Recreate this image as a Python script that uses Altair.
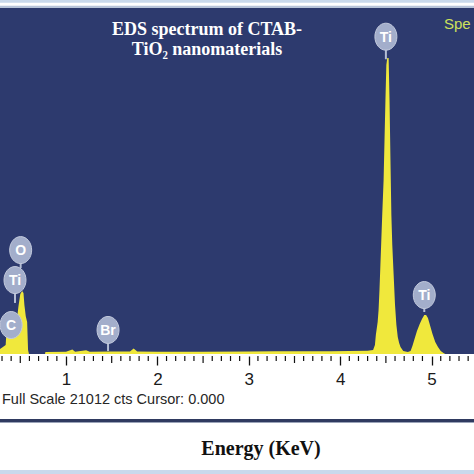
import altair as alt
import pandas as pd

# ---------------- data ----------------
energy = [0.278, 0.31, 0.34, 0.35, 0.38, 0.41, 0.44, 0.46, 0.48, 0.50, 0.52, 0.535,
          0.545, 0.56, 0.575, 0.585, 0.595, 0.77, 0.775, 1.00, 1.07, 1.10, 1.22, 1.26,
          1.50, 1.70, 1.74, 1.78, 2.00, 2.50, 3.00, 3.30, 3.60, 3.90, 4.30, 4.36, 4.38,
          4.39, 4.41, 4.42, 4.43, 4.44, 4.45, 4.46, 4.475, 4.485, 4.495, 4.505, 4.515,
          4.53, 4.54, 4.55, 4.56, 4.57, 4.585, 4.60, 4.615, 4.63, 4.645, 4.66, 4.69,
          4.74, 4.77, 4.79, 4.81, 4.84, 4.87, 4.895, 4.92, 4.94, 4.96, 4.985, 5.01,
          5.04, 5.07, 5.10, 5.13, 5.15]
counts = [300, 420, 550, 1450, 1700, 1760, 2000, 1950, 2900, 3650, 3820, 3700,
          2970, 2300, 1950, 250, 0, 0, 120, 130, 280, 140, 230, 130,
          150, 150, 330, 150, 140, 140, 150, 170, 160, 170, 200, 250, 550,
          1150, 1950, 2670, 3900, 5400, 6920, 8450, 10560, 12990, 15400, 17550, 17970,
          17970, 15400, 11780, 8440, 6620, 4800, 2970, 1760, 1030, 670, 420, 180,
          120, 180, 490, 850, 1400, 1820, 2120, 2370, 2370, 2190, 1700, 1210,
          730, 420, 180, 60, 0]

label_text = ["Ti", "Ti", "O", "Ti", "C", "Br"]
label_energy = [4.50, 4.92, 0.504, 0.442, 0.40, 1.46]
label_counts = [19270, 3580, 6310, 4490, 1760, 1460]
stem_end = [17900, 2550, 5220, 3100, 1760, 180]

major_ticks = [1, 2, 3, 4, 5]
half_ticks = [0.5, 1.5, 2.5, 3.5, 4.5]
minor_ticks = [round(0.3 + 0.1 * i, 1) for i in range(52)
               if round((0.3 + 0.1 * i) * 10) % 5 != 0]

full_scale = 21012
title_lines = ["EDS spectrum of CTAB-", "TiO\u2082 nanomaterials"]
status_text = "Full Scale 21012 cts Cursor: 0.000"
x_title = "Energy (KeV)"
spectrum_name = "Spe"

# ---------------- styles ----------------
NAVY = "#2d3a6e"
YELLOW = "#f0e83c"
BUBBLE = "#a3aecb"
W, H = 474, 346

spec = pd.DataFrame({"energy": energy, "counts": counts})
lab = pd.DataFrame({"el": label_text, "energy": label_energy,
                    "counts": label_counts, "end": stem_end})

x_scale = alt.Scale(domain=[0.278, 5.464], nice=False, zero=False)
y_scale = alt.Scale(domain=[0, full_scale], nice=False)

one = pd.DataFrame({"k": [0]})

area = alt.Chart(spec).mark_area(color=YELLOW, interpolate="linear", clip=True).encode(
    x=alt.X("energy:Q", scale=x_scale,
            axis=alt.Axis(values=major_ticks, format="d", orient="bottom", domain=False,
                          grid=False, ticks=True, tickColor="#111", tickSize=9,
                          tickWidth=1.3, offset=2, labelFont="Liberation Sans",
                          labelFontSize=17, labelColor="#1a1a1a", labelPadding=6,
                          title=None)),
    y=alt.Y("counts:Q", scale=y_scale, axis=None),
)

minor = alt.Chart(pd.DataFrame({"t": minor_ticks})).mark_rule(color="#111", strokeWidth=1.2).encode(
    x=alt.X("t:Q", scale=x_scale), y=alt.value(H + 2), y2=alt.value(H + 7))
half = alt.Chart(pd.DataFrame({"t": half_ticks})).mark_rule(color="#111", strokeWidth=1.2).encode(
    x=alt.X("t:Q", scale=x_scale), y=alt.value(H + 2), y2=alt.value(H + 9))

stems = alt.Chart(lab).mark_rule(color="#b4bdd4", strokeWidth=2).encode(
    x=alt.X("energy:Q", scale=x_scale), y=alt.Y("counts:Q", scale=y_scale), y2="end:Q")

ellipse = "M 0 -1 A 0.815 1 0 1 1 0 1 A 0.815 1 0 1 1 0 -1 Z"
bubbles = alt.Chart(lab).mark_point(shape=ellipse, size=729, filled=True, fill=BUBBLE,
                                    stroke="#c3cadd", strokeWidth=1, opacity=1).encode(
    x=alt.X("energy:Q", scale=x_scale), y=alt.Y("counts:Q", scale=y_scale))
btext = alt.Chart(lab).mark_text(color="white", fontSize=14, fontWeight="bold",
                                 font="Liberation Sans", dy=1).encode(
    x=alt.X("energy:Q", scale=x_scale), y=alt.Y("counts:Q", scale=y_scale), text="el:N")

title = alt.Chart(one).mark_text(text=title_lines, color="white", fontSize=18, fontWeight="bold",
                                 font="Liberation Serif", lineHeight=20, align="center",
                                 baseline="alphabetic").encode(
    x=alt.value(207), y=alt.value(27))

spec_name = alt.Chart(one).mark_text(text=spectrum_name, color="#cde05c", fontSize=15,
                                     font="Liberation Sans", align="left",
                                     baseline="alphabetic").encode(
    x=alt.value(444), y=alt.value(21))

status = alt.Chart(one).mark_text(text=status_text, color="#262626", fontSize=14.5,
                                  font="Liberation Sans", align="left",
                                  baseline="alphabetic").encode(
    x=alt.value(2), y=alt.value(396))

xt = alt.Chart(one).mark_text(text=x_title, color="#111", fontSize=20, fontWeight="bold",
                              font="Liberation Serif", align="center",
                              baseline="alphabetic").encode(
    x=alt.value(261), y=alt.value(447))

def band(y0, y1, color):
    return alt.Chart(one).mark_rect(color=color).encode(
        x=alt.value(0), x2=alt.value(W), y=alt.value(y0), y2=alt.value(y1))

top1 = band(-8, -5.3, "#c9d9ec")
top2 = band(-2.2, 0, "#b7c4da")
sep = band(411, 414, "#2f3a60")
sep2 = band(414, 415, "#9aa3b8")
bot = band(462, 466, "#c9d9ec")

chart = alt.layer(area, minor, half, stems, bubbles, btext, title, spec_name,
                  status, xt, top1, top2, sep, sep2, bot).properties(
    width=W, height=H,
    autosize=alt.AutoSizeParams(type="none"),
    padding={"left": 0, "right": 0, "top": 8, "bottom": 120},
    background="white",
).configure_view(fill=NAVY, stroke=None)

chart.save("out.html", embed_options={"renderer": "svg", "actions": False})
